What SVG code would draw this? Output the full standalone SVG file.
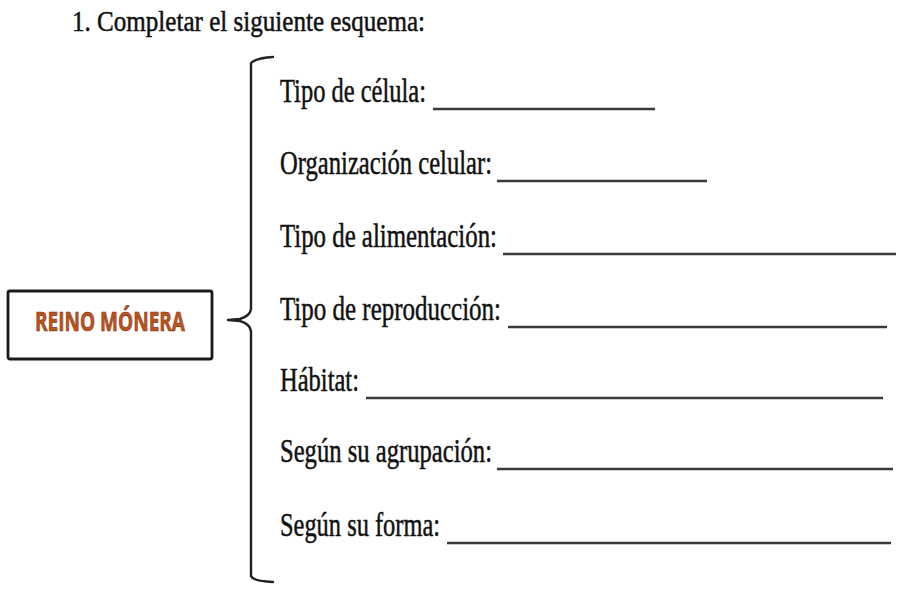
<svg xmlns="http://www.w3.org/2000/svg" width="901" height="592" viewBox="0 0 901 592">
<style>
.t{font-family:"Liberation Serif","Times New Roman",serif;fill:#111;stroke:#111;stroke-width:0.5;}
.row{font-size:34px;}
.blank{stroke:#3a3a3a;stroke-width:2.4;}
.brace{fill:none;stroke:#222;stroke-width:2.4;stroke-linecap:round;stroke-linejoin:round;}
</style>
<rect width="901" height="592" fill="#ffffff"/>
<text class="t" x="72" y="31" font-size="29" textLength="353" lengthAdjust="spacingAndGlyphs">1.  Completar el siguiente esquema:</text>
<g id="node-reino">
<rect x="8" y="291" width="204" height="68" rx="2" fill="#ffffff" stroke="#1a1a1a" stroke-width="2.8"/>
<text x="35" y="331" font-family="'Open Sans','Liberation Sans',sans-serif" font-weight="bold" font-size="27" fill="#b5561c" stroke="#8a2a14" stroke-width="0.6" textLength="150" lengthAdjust="spacingAndGlyphs">REINO MÓNERA</text>
</g>
<g id="connectors">
<path class="brace" d="M273,57 Q256,58 251,63 L251,309 Q250,316 240,319 L228,320 L240,321 Q250,324 251,331 L251,576 Q253,581 273,582"/>
</g>
<g id="row-1">
<text class="t row" x="280" y="102" textLength="146" lengthAdjust="spacingAndGlyphs">Tipo de célula:</text>
<line class="blank" x1="433" y1="109" x2="655" y2="109"/>
</g>
<g id="row-2">
<text class="t row" x="280" y="174" textLength="212" lengthAdjust="spacingAndGlyphs">Organización celular:</text>
<line class="blank" x1="497" y1="181" x2="707" y2="181"/>
</g>
<g id="row-3">
<text class="t row" x="280" y="247" textLength="217" lengthAdjust="spacingAndGlyphs">Tipo de alimentación:</text>
<line class="blank" x1="503" y1="254" x2="896" y2="254"/>
</g>
<g id="row-4">
<text class="t row" x="280" y="320" textLength="221" lengthAdjust="spacingAndGlyphs">Tipo de reproducción:</text>
<line class="blank" x1="508" y1="327" x2="887" y2="327"/>
</g>
<g id="row-5">
<text class="t row" x="280" y="391" textLength="79" lengthAdjust="spacingAndGlyphs">Hábitat:</text>
<line class="blank" x1="366" y1="398" x2="883" y2="398"/>
</g>
<g id="row-6">
<text class="t row" x="280" y="462" textLength="212" lengthAdjust="spacingAndGlyphs">Según su agrupación:</text>
<line class="blank" x1="497" y1="469" x2="893" y2="469"/>
</g>
<g id="row-7">
<text class="t row" x="280" y="536" textLength="160" lengthAdjust="spacingAndGlyphs">Según su forma:</text>
<line class="blank" x1="447" y1="543" x2="891" y2="543"/>
</g>
</svg>
